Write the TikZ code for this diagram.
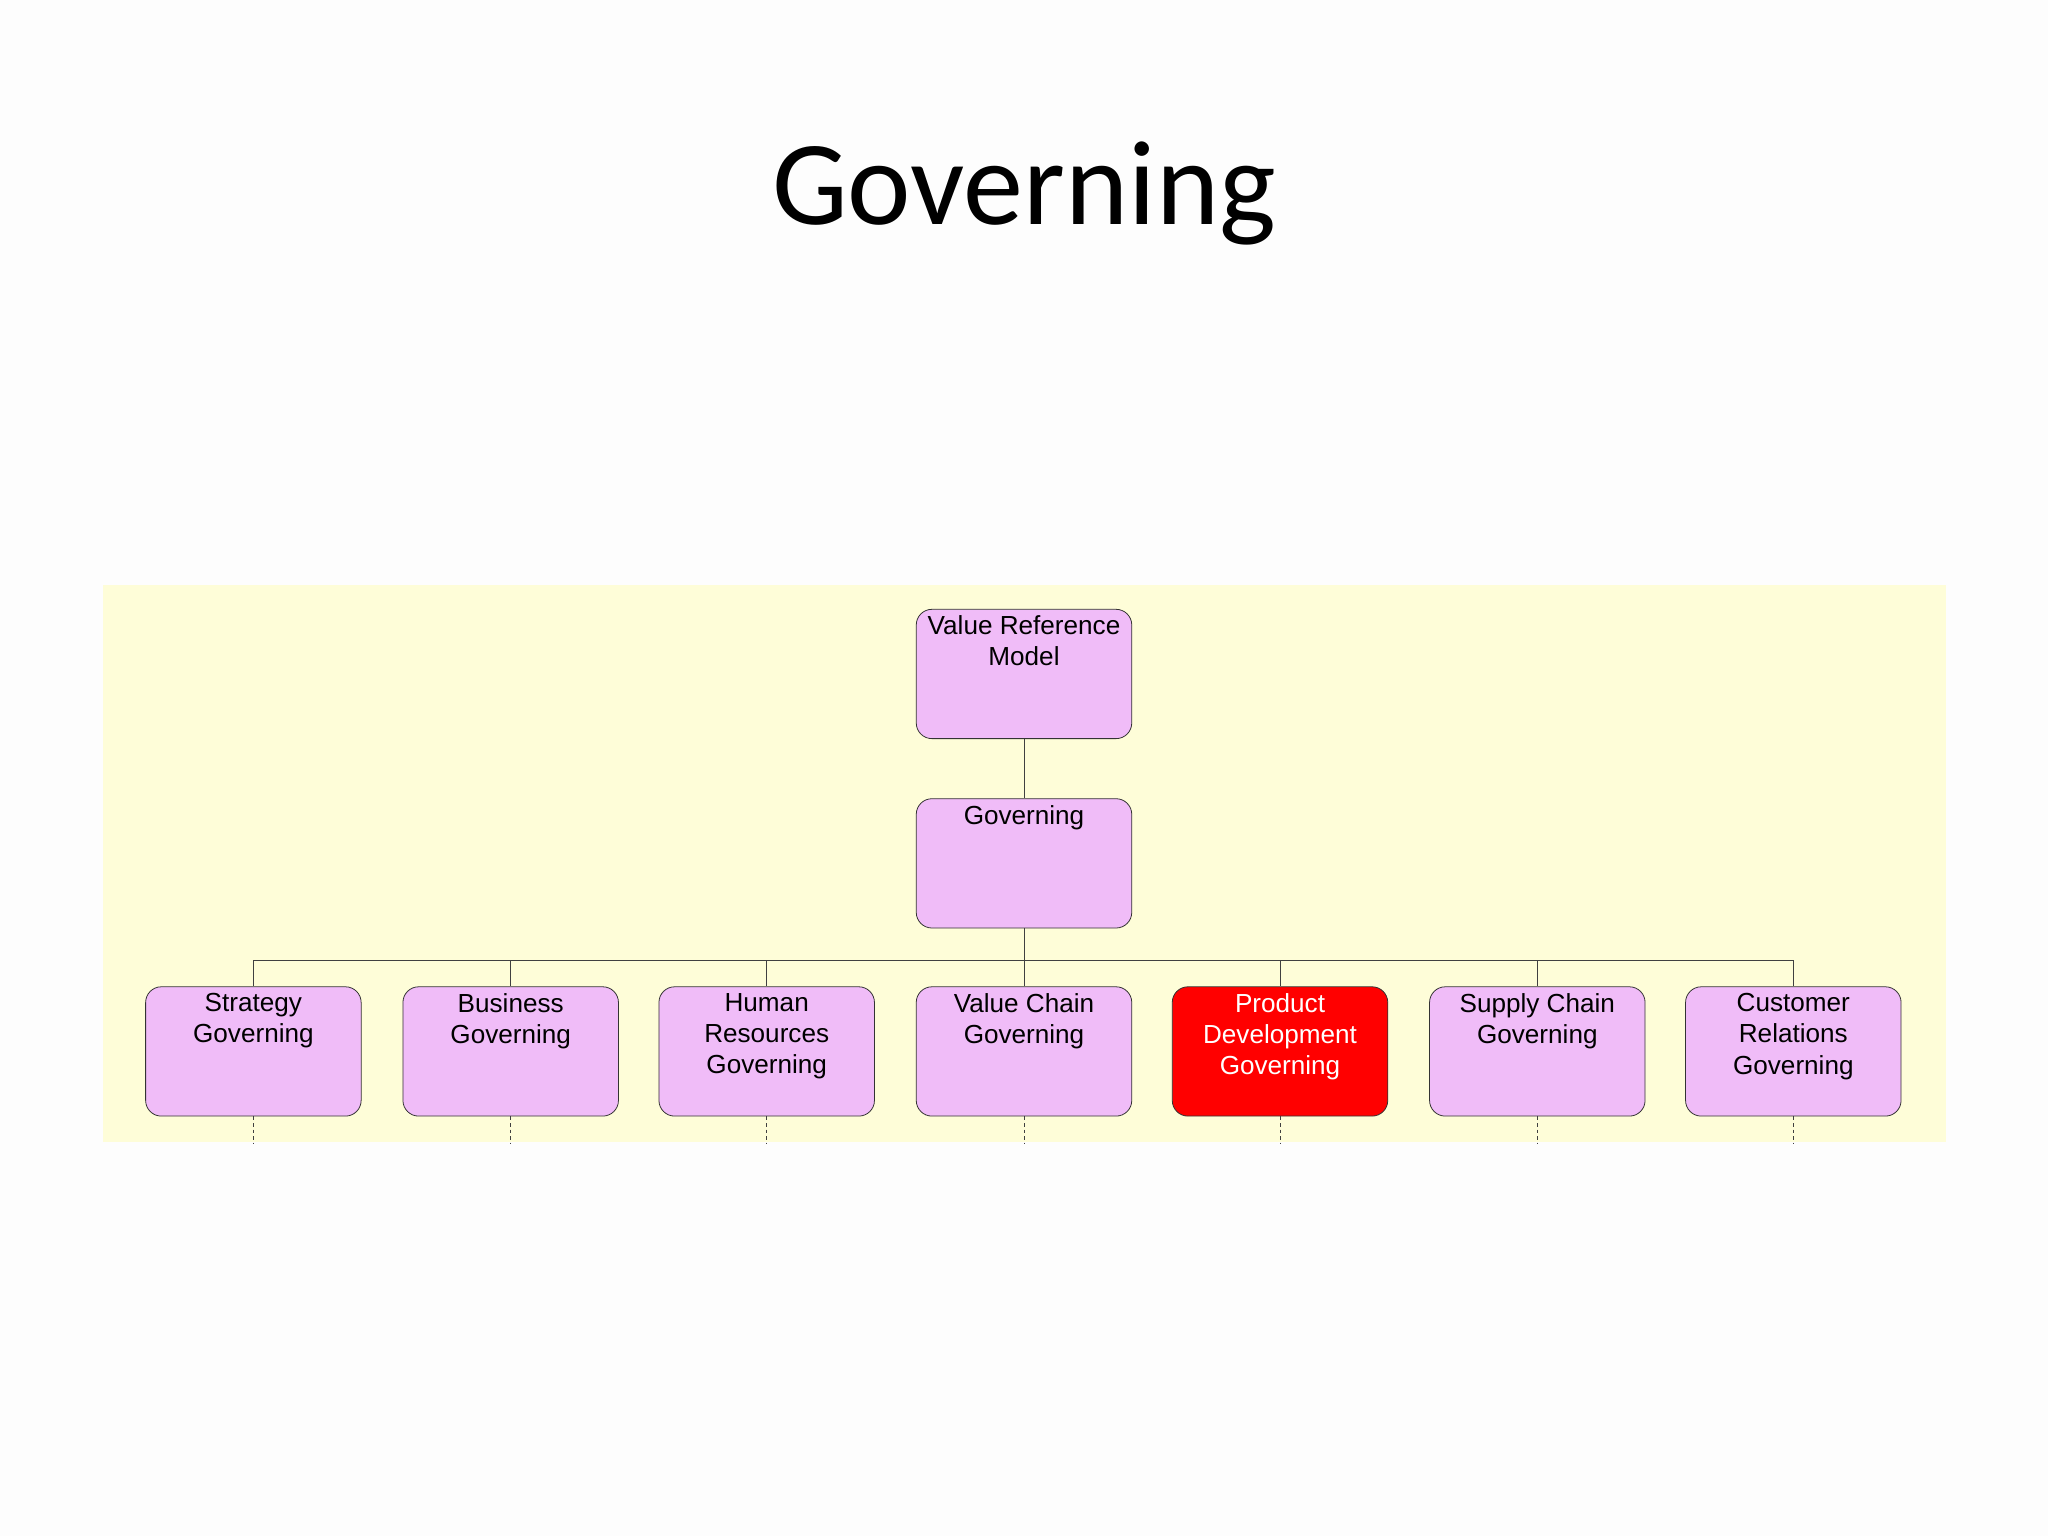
\documentclass[tikz,border=0pt]{standalone}
\usepackage{fontspec}
\setmainfont{Liberation Sans}
\newfontfamily\titlefont{Carlito}
\definecolor{panel}{HTML}{FEFDD8}
\definecolor{boxfill}{HTML}{F0BCF8}
\definecolor{page}{HTML}{FDFDFD}
\begin{document}
\begin{tikzpicture}[x=1pt,y=-1pt,
  box/.style={draw=black!80,line width=0.6pt,fill=boxfill,rounded corners=12pt,minimum width=165pt,minimum height=99pt,inner sep=0pt},
  redbox/.style={box,fill=red},
  lbl/.style={anchor=north,align=center,font=\fontsize{20}{24}\selectfont,inner sep=0pt},
  conn/.style={draw=black!75,line width=0.6pt},
  dash/.style={}]
\fill[page] (0,0) rectangle (1568,1176);
\useasboundingbox (0,0) rectangle (1568,1176);
\fill[panel] (79,448) rectangle (1490,874);
\node[font=\titlefont\fontsize{92}{100}\selectfont] (title) at (784,148) {Governing};
\node[box] (vrm) at (784,516) {};
\node[lbl] at ([yshift=-5pt]vrm.north) {Value Reference\\Model};
\node[box] (gov) at (784,661) {};
\node[lbl] at ([yshift=-5pt]gov.north) {Governing};
\draw[conn] (vrm.south) -- (gov.north);
\coordinate (bus) at (784,735);
\draw[conn] (gov.south) -- (bus);
\foreach \n/\x/\t/\s in {a/194/Strategy\\Governing/box,b/391/Business\\Governing/box,c/587/Human\\Resources\\Governing/box,d/784/Value Chain\\Governing/box,e/980/Product\\Development\\Governing/redbox,f/1177/Supply Chain\\Governing/box,g/1373/Customer\\Relations\\Governing/box}{
  \node[\s] (\n) at (\x,805) {};
  \coordinate (\n t) at (\x,735);
  \coordinate (\n d) at (\x,876);
  \draw[conn] (\n t) -- (\n.north);
  \draw[conn,densely dashed,line width=0.5pt] (\n.south) -- (\n d);
}
\foreach \n/\t in {a/Strategy\\Governing,b/Business\\Governing,c/Human\\Resources\\Governing,d/Value Chain\\Governing,f/Supply Chain\\Governing,g/Customer\\Relations\\Governing}
  \node[lbl] at ([yshift=-5pt]\n.north) {\t};
\node[lbl,text=white] at ([yshift=-5pt]e.north) {Product\\Development\\Governing};
\draw[conn] (at) -- (gt);
\end{tikzpicture}
\end{document}
